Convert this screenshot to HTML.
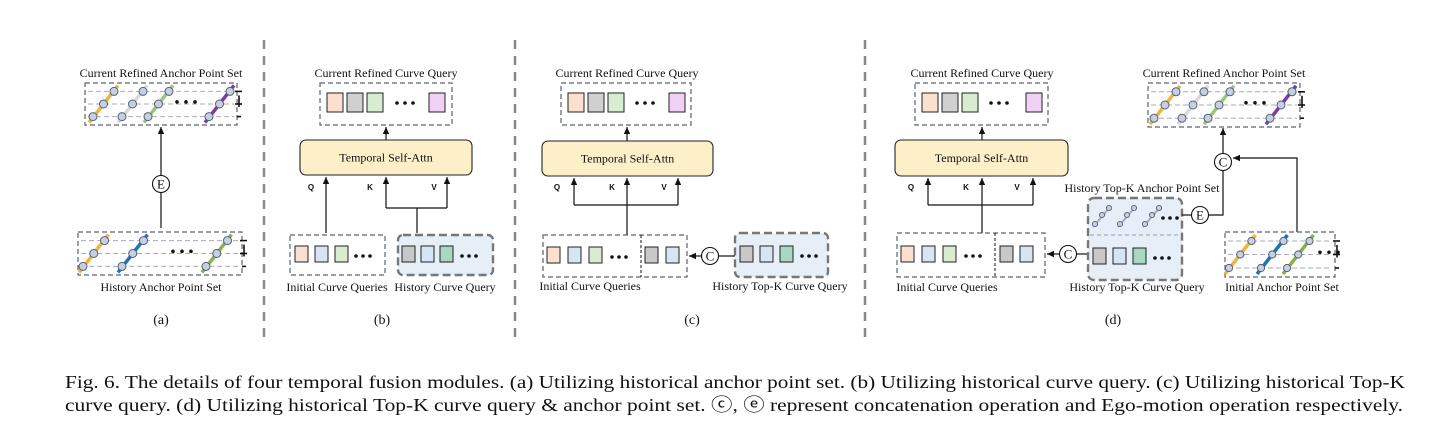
<!DOCTYPE html>
<html><head><meta charset="utf-8"><style>
html,body{margin:0;padding:0;background:#fff;}
svg{display:block;font-family:"Liberation Serif",serif;}
</style></head><body>
<svg id="s" width="1440" height="447" viewBox="0 0 1440 447" xmlns="http://www.w3.org/2000/svg">
<defs>
<marker id="ar" markerWidth="8" markerHeight="8" refX="7" refY="4" orient="auto" markerUnits="userSpaceOnUse">
<path d="M0,0.8 L7,4 L0,7.2 z" fill="#111"/></marker>
</defs>
<g stroke="#888" stroke-width="2.5" stroke-dasharray="9,7">
<line x1="264" y1="40" x2="264" y2="340"/>
<line x1="515" y1="40" x2="515" y2="340"/>
<line x1="865" y1="40" x2="865" y2="340"/>
</g>
<g id="g" font-size="12" fill="#111" text-anchor="middle"></g>
<text x="65" y="388" font-size="18" fill="#111" textLength="1340" lengthAdjust="spacingAndGlyphs">Fig. 6.  The details of four temporal fusion modules. (a) Utilizing historical anchor point set. (b) Utilizing historical curve query. (c) Utilizing historical Top-K</text>
<text x="65" y="411" font-size="18" fill="#111" textLength="1338" lengthAdjust="spacingAndGlyphs">curve query. (d) Utilizing historical Top-K curve query &amp; anchor point set. ⓒ, ⓔ represent concatenation operation and Ego-motion operation respectively.</text>
</svg>
<script>
const g=document.getElementById('g');let h='';
function T(x,y,t,s,a){h+=`<text x="${x}" y="${y}" font-size="${s||12}" ${a?'text-anchor="'+a+'"':''}>${t}</text>`;}
function QKV(x,y,t){h+=`<text x="${x}" y="${y}" font-size="8" font-weight="bold" font-family="Liberation Sans, sans-serif">${t}</text>`;}
function L(x1,y1,x2,y2,arrow){h+=`<line x1="${x1}" y1="${y1}" x2="${x2}" y2="${y2}" stroke="#111" stroke-width="1.2" ${arrow?'marker-end="url(#ar)"':''}/>`;}
function P(d,arrow){h+=`<polyline points="${d}" fill="none" stroke="#111" stroke-width="1.2" ${arrow?'marker-end="url(#ar)"':''}/>`;}
function box(x,y,w,hh,fill,thick,r){h+=`<rect x="${x}" y="${y}" width="${w}" height="${hh}" rx="${r||0}" fill="${fill||'#fff'}" stroke="${thick?'#777':'#5a6475'}" stroke-width="${thick?2.4:1.2}" stroke-dasharray="${thick?'8,4':'5,3'}"/>`;}
function C(x,y,t){h+=`<circle cx="${x}" cy="${y}" r="8.5" fill="#fff" stroke="#111" stroke-width="1.1"/><text x="${x}" y="${y+4.5}" font-size="13" text-anchor="middle">${t}</text>`;}
function sq(x,y,c,s){s=s||16;h+=`<rect x="${x}" y="${y}" width="${s}" height="${s+3}" fill="${c}" stroke="#222" stroke-width="1"/>`;}
function dots(x,y,n,gap){for(let i=0;i<(n||3);i++)h+=`<circle cx="${x+i*(gap||8)}" cy="${y}" r="1.8" fill="#111"/>`;}
function attn(x,y,w,hh){h+=`<rect x="${x}" y="${y}" width="${w}" height="${hh}" rx="6" fill="#fdf0c8" stroke="#222" stroke-width="1.1"/>`;T(x+w/2,y+hh/2+4,'Temporal Self-Attn',12,'middle');}
function lanes(x,y,w,hh,cols,dx,ticks,scale){
 box(x,y,w,hh);
 const ys=[y+hh*0.2,y+hh*0.5,y+hh*0.8];
 ys.forEach(yy=>h+=`<line x1="${x+3}" y1="${yy}" x2="${x+w-3}" y2="${yy}" stroke="#aab" stroke-width="1" stroke-dasharray="5,3"/>`);
 cols.forEach(([cx,c])=>{const x0=x+cx,sl=hh*0.5;
  h+=`<line x1="${x0-4}" y1="${ys[2]+6}" x2="${x0+sl+4}" y2="${ys[0]-6}" stroke="${c}" stroke-width="3.5"/>`;
  [[x0,ys[2]],[x0+sl/2,ys[1]],[x0+sl,ys[0]]].forEach(p=>h+=`<circle cx="${p[0]}" cy="${p[1]}" r="${scale||4}" fill="#c8cfe0" stroke="#55607a" stroke-width="1"/>`);});
 dots(x+dx,y+hh*0.45,3,9);
 if(ticks){const tx=x+w-2;h+=`<line x1="${tx}" y1="${ys[0]}" x2="${tx+7}" y2="${ys[0]}" stroke="#111" stroke-width="1.6"/><line x1="${tx+4}" y1="${ys[0]+4}" x2="${tx+4}" y2="${ys[1]+3}" stroke="#111" stroke-width="1.6"/><line x1="${tx}" y1="${ys[1]}" x2="${tx+7}" y2="${ys[1]}" stroke="#111" stroke-width="1.6"/><line x1="${tx+2}" y1="${ys[2]}" x2="${tx+6}" y2="${ys[2]}" stroke="#111" stroke-width="1.6"/>`;}
}
// (a)
T(161,77,'Current Refined Anchor Point Set');
lanes(85,83,152,42,[[8,'#f0b43a'],[37,'#d8d8d8'],[63,'#9cc47a'],[124,'#7a3aa8']],92,true);
L(161,228,161,127,true);C(161,184,'E');
lanes(78,232,164,43,[[5,'#f0b43a'],[44,'#1f74b4'],[128,'#8ab04a']],95,true);
T(161,291,'History Anchor Point Set');T(161,324,'(a)',14);
// (b)
T(386,77,'Current Refined Curve Query');
box(320,83,132,42);sq(327,93,'#fbe0cf');sq(347,93,'#d0d0d0');sq(367,93,'#d8ecd0');dots(397,103);sq(429,93,'#f2d0f6');
L(386,140,386,127,true);attn(300,140,172,35);
L(326,233,326,177,true);L(417,233,417,208);P('386,208 447,208');L(386,208,386,177,true);L(447,208,447,177,true);
QKV(311,190,'Q');QKV(370,190,'K');QKV(434,190,'V');
box(290,235,95,40);sq(295,246,'#fbe0cf',13);sq(315,246,'#d6e4f4',13);sq(335,246,'#d8ecd0',13);dots(356,256,3,7);
box(398,235,95,40,'#e6eef8',true,5);sq(402,246,'#c8c8c8',13);sq(421,246,'#d6e4f4',13);sq(440,246,'#a8d8c0',13);dots(462,256,3,7);
T(337,291,'Initial Curve Queries');T(445,291,'History Curve Query');T(382,324,'(b)',14);
// (c)
T(627,77,'Current Refined Curve Query');
box(561,83,130,42);sq(568,93,'#fbe0cf');sq(588,93,'#d0d0d0');sq(608,93,'#d8ecd0');dots(637,103);sq(669,93,'#f2d0f6');
L(627,141,627,127,true);attn(542,141,171,35);
P('574,205 678,205',false);L(574,205,574,178,true);L(678,205,678,178,true);L(627,235,627,178,true);
QKV(557,190,'Q');QKV(612,190,'K');QKV(664,190,'V');
box(543,235,144,42);h+=`<line x1="641" y1="235" x2="641" y2="277" stroke="#111" stroke-dasharray="3,2"/>`;
sq(547,247,'#fbe0cf',13);sq(568,247,'#d6e4f4',13);sq(589,247,'#d8ecd0',13);dots(612,257,3,7);sq(645,247,'#c8c8c8',13);sq(666,247,'#d6e4f4',13);
L(735,256,719,256,false);C(710,256,'C');L(701,256,689,256,true);
box(735,233,93,44,'#e6eef8',true,5);sq(740,246,'#c8c8c8',13);sq(760,246,'#d6e4f4',13);sq(780,246,'#a8d8c0',13);dots(802,256,3,7);
T(590,290,'Initial Curve Queries');T(780,290,'History Top-K Curve Query');T(692,324,'(c)',14);
// (d)
T(982,77,'Current Refined Curve Query');
box(915,83,133,42);sq(922,93,'#fbe0cf');sq(942,93,'#d0d0d0');sq(962,93,'#d8ecd0');dots(991,103);sq(1026,93,'#f2d0f6');
L(982,140,982,127,true);attn(895,140,173,36);
P('928,205 1033,205');L(928,205,928,178,true);L(1033,205,1033,178,true);L(982,233,982,178,true);
QKV(911,190,'Q');QKV(966,190,'K');QKV(1017,190,'V');
box(897,233,148,44);h+=`<line x1="995" y1="233" x2="995" y2="277" stroke="#111" stroke-dasharray="3,2"/>`;
sq(901,246,'#fbe0cf',13);sq(922,246,'#d6e4f4',13);sq(943,246,'#d8ecd0',13);dots(966,256,3,7);sq(1000,246,'#c8c8c8',13);sq(1020,246,'#d6e4f4',13);
L(1088,254,1077,254);C(1068,254,'C');L(1059,254,1047,254,true);
box(1088,198,94,82,'#e6eef8',true,6);h+=`<line x1="1090" y1="235" x2="1180" y2="235" stroke="#99a" stroke-dasharray="4,3"/>`;
[[1095],[1120],[1145]].forEach(([x])=>{h+=`<line x1="${x-2}" y1="227" x2="${x+16}" y2="206" stroke="#aab" stroke-width="2"/>`;[[x,224],[x+7,215],[x+14,208]].forEach(p=>h+=`<circle cx="${p[0]}" cy="${p[1]}" r="2.6" fill="#c8cfe0" stroke="#55607a" stroke-width="0.9"/>`);});
dots(1163,218,3,7);
sq(1093,248,'#c8c8c8',13);sq(1113,248,'#d6e4f4',13);sq(1133,248,'#a8d8c0',13);dots(1155,258,3,7);
T(1142,192,'History Top-K Anchor Point Set');
L(1182,215,1191,215);C(1200,215,'E');P('1209,215 1223,215 1223,171');
C(1223,162,'C');L(1223,153,1223,128,true);P('1297,232 1297,158 1233,158',true);
T(1224,77,'Current Refined Anchor Point Set');
lanes(1148,83,152,44,[[6,'#f0b43a'],[34,'#d8d8d8'],[60,'#9cc47a'],[122,'#7a3aa8']],98,true);
lanes(1225,232,110,45,[[4,'#f0b43a'],[36,'#1f74b4'],[62,'#8ab04a']],95,true,3.6);
T(1137,291,'History Top-K Curve Query');T(1282,291,'Initial Anchor Point Set');
T(947,291,'Initial Curve Queries');T(1113,324,'(d)',14);
g.innerHTML=h;
</script>
</body></html>
